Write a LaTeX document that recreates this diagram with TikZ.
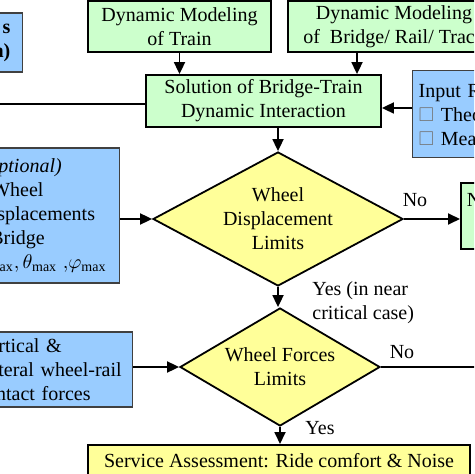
\documentclass[tikz,border=0pt]{standalone}
\usepackage{amssymb}
\usepackage{fontspec}
\setmainfont{Liberation Serif}
\usetikzlibrary{shapes.geometric,arrows.meta}
\definecolor{boxgreen}{RGB}{204,255,204}
\definecolor{boxblue}{RGB}{153,204,255}
\definecolor{boxyellow}{RGB}{255,255,153}
\newcommand{\chkbox}{{\color{black!55}$\square$}}

\begin{document}
\begin{tikzpicture}[x=0.5pt,y=-0.5pt,>={Triangle[length=6pt,width=5.5pt]},
    greenbox/.style={draw,fill=boxgreen,line width=0.9pt,align=center,inner sep=0pt},
    bluebox/.style={draw=black!75,fill=boxblue,line width=0.7pt,align=left,inner xsep=3pt,inner ysep=0pt},
    decision/.style={diamond,draw,fill=boxyellow,line width=0.9pt,align=center,inner sep=0pt},
    lbl/.style={inner sep=0pt},
    arr/.style={->,line width=0.9pt}]
    \useasboundingbox (0,0) rectangle (474,474);
    \clip (0,0) rectangle (474,474);
    % models
    \node[greenbox,minimum width=91.5pt,minimum height=25.5pt] (train) at (179.5,26.5) {Dynamic Modeling\\of Train};
    \node[greenbox,minimum width=106pt,minimum height=25.5pt] (track) at (394,26.5) {Dynamic Modeling\\of~ Bridge/ Rail/ Track};
    \node[bluebox,anchor=east,text width=25pt,align=right,inner xsep=6pt,minimum height=29.5pt,font=\bfseries] (param) at (23,42.5) {s\hspace*{3pt}\\n)};
    \node[greenbox,minimum width=117.5pt,minimum height=26pt] (sol) at (263.5,101) {Solution of Bridge-Train\\Dynamic Interaction};
    \node[bluebox,anchor=north west,text width=130pt,minimum height=43.5pt] (inp) at (412,70) {Input Rail Irregularities\\\chkbox\ Theoretical\\\chkbox\ Measured};
    % checks
    \node[bluebox,anchor=east,text width=68pt,minimum height=67.5pt] (opt) at (120,215.5)
      {\textit{(Optional)}\\\hspace*{7pt}Wheel\\Displacements\\\hspace*{6.5pt}Bridge\\$u_{\max}, \theta_{\max}\;{,}\varphi_{\max}$};
    \node[decision,minimum width=125pt,minimum height=67pt,aspect=1.87] (dlim) at (278,219) {Wheel\\Displacement\\Limits};
    \node[greenbox,anchor=north west,text width=40pt,align=left,inner xsep=3pt,minimum height=33pt] (redo) at (460,182) {N\\\strut};
    \node[bluebox,anchor=east,text width=74.5pt,minimum height=37.5pt] (force) at (133,369.5) {Vertical \&\\Lateral wheel-rail\\contact forces};
    \node[decision,minimum width=100pt,minimum height=59pt,aspect=1.695] (flim) at (280,367) {Wheel Forces\\Limits};
    \node[greenbox,fill=boxyellow,anchor=north,minimum width=191pt,minimum height=16pt] (serv) at (279,444) {Service Assessment: Ride comfort \& Noise};
    % labels
    \node[lbl] (no1) at (415,200) {No};
    \node[lbl,anchor=west,align=left] (yes1) at (312,303) {Yes (in near\\critical case)};
    \node[lbl] (no2) at (402,352) {No};
    \node[lbl] (yes2) at (320,428) {Yes};
    % connectors
    \coordinate (tk) at (357,0);
    \coordinate (inar) at (412,108);
    \coordinate (back) at (-10,104);
    \coordinate (out) at (484,367);
    \draw[arr] (train) -- (train |- sol.north);
    \draw[arr] (track.south -| tk) -- (sol.north -| tk);
    \draw[arr] (inar) -- (inar -| sol.east);
    \draw[line width=0.9pt] (back) -- (back -| sol.west);
    \draw[arr] (sol.south -| dlim.north) -- (dlim.north);
    \draw[arr] (opt.east |- dlim.west) -- (dlim.west);
    \draw[arr] (dlim.east) -- (dlim.east -| redo.west);
    \draw[arr] (dlim.south) -- (dlim.south |- flim.north);
    \draw[arr] (force.east |- flim.west) -- (flim.west);
    \draw[line width=0.9pt] (flim.east) -- (out);
    \draw[arr] (flim.south) -- (flim.south |- serv.north);
\end{tikzpicture}
\end{document}
